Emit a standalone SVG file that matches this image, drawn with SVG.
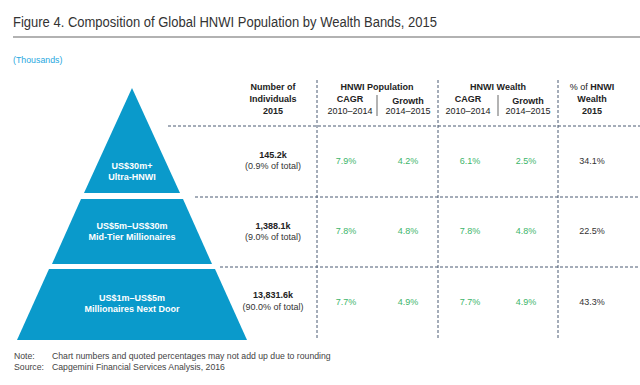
<svg xmlns="http://www.w3.org/2000/svg" width="640" height="385" viewBox="0 0 640 385">
<style>
text{font-family:"Liberation Sans",Arial,sans-serif;}
.tier{fill:#0a9acb;}
.tl{fill:#fff;font-size:9px;font-weight:bold;text-anchor:middle;}
.hd{fill:#222;font-size:9px;font-weight:bold;text-anchor:middle;}
.hr{fill:#222;font-size:9px;text-anchor:middle;}
.num{fill:#222;font-size:9px;font-weight:bold;text-anchor:middle;}
.sub{fill:#333;font-size:9px;text-anchor:middle;}
.g{fill:#3db56a;font-size:9px;text-anchor:middle;}
.k{fill:#333;font-size:9px;text-anchor:middle;}
.dash{stroke:#4a5a72;stroke-width:1;stroke-dasharray:3 2;fill:none;}
.solid{stroke:#9a9a9a;stroke-width:1.5;}
.ft{fill:#444;font-size:8.7px;}
</style>
<rect width="640" height="385" fill="#fff"/>
<g id="title">
<text x="13" y="27" font-size="14" fill="#333" textLength="424" lengthAdjust="spacingAndGlyphs">Figure 4. Composition of Global HNWI Population by Wealth Bands, 2015</text>
<line x1="13" y1="37" x2="640" y2="37" stroke="#999" stroke-width="1.5"/>
<text x="13" y="63" font-size="8.8" fill="#29a8e0">(Thousands)</text>
</g>
<g id="connectors">
<line class="dash" x1="168" y1="126" x2="640" y2="126"/>
<line class="dash" x1="195" y1="197" x2="640" y2="197"/>
<line class="dash" x1="220" y1="267" x2="640" y2="267"/>
<line class="dash" x1="317" y1="80" x2="317" y2="338"/>
<line class="dash" x1="438" y1="80" x2="438" y2="338"/>
<line class="dash" x1="558" y1="80" x2="558" y2="338"/>
<line class="solid" x1="377" y1="95" x2="377" y2="116"/>
<line class="solid" x1="498" y1="95" x2="498" y2="116"/>
</g>
<g id="tier-ultra">
<polygon class="tier" points="132,88 180,193 84,193"/>
<text class="tl" x="132" y="169">US$30m+</text>
<text class="tl" x="132" y="180">Ultra-HNWI</text>
</g>
<g id="tier-mid">
<polygon class="tier" points="81,199 183,199 212,264 52,264"/>
<text class="tl" x="132" y="229">US$5m–US$30m</text>
<text class="tl" x="132" y="240">Mid-Tier Millionaires</text>
</g>
<g id="tier-next">
<polygon class="tier" points="49,269 215,269 247,340 17,340"/>
<text class="tl" x="132" y="301">US$1m–US$5m</text>
<text class="tl" x="132" y="312">Millionaires Next Door</text>
</g>
<g id="header">
<text class="hd" x="273" y="90">Number of</text>
<text class="hd" x="273" y="102">Individuals</text>
<text class="hd" x="273" y="114">2015</text>
<text class="hd" x="377" y="90">HNWI Population</text>
<text class="hd" x="350" y="102">CAGR</text>
<text class="hr" x="350" y="114">2010–2014</text>
<text class="hd" x="408" y="104">Growth</text>
<text class="hr" x="408" y="114">2014–2015</text>
<text class="hd" x="498" y="90">HNWI Wealth</text>
<text class="hd" x="468" y="102">CAGR</text>
<text class="hr" x="468" y="114">2010–2014</text>
<text class="hd" x="528" y="104">Growth</text>
<text class="hr" x="528" y="114">2014–2015</text>
<text class="hd" x="592" y="90"><tspan font-weight="normal">% of </tspan>HNWI</text>
<text class="hd" x="592" y="102">Wealth</text>
<text class="hd" x="592" y="114">2015</text>
</g>
<g id="row-ultra">
<text class="num" x="273" y="158">145.2k</text>
<text class="sub" x="273" y="169">(0.9% of total)</text>
<text class="g" x="346" y="164">7.9%</text>
<text class="g" x="408" y="164">4.2%</text>
<text class="g" x="470" y="164">6.1%</text>
<text class="g" x="526" y="164">2.5%</text>
<text class="k" x="592" y="164">34.1%</text>
</g>
<g id="row-mid">
<text class="num" x="273" y="229">1,388.1k</text>
<text class="sub" x="273" y="240">(9.0% of total)</text>
<text class="g" x="346" y="234">7.8%</text>
<text class="g" x="408" y="234">4.8%</text>
<text class="g" x="470" y="234">7.8%</text>
<text class="g" x="526" y="234">4.8%</text>
<text class="k" x="592" y="234">22.5%</text>
</g>
<g id="row-next">
<text class="num" x="273" y="298">13,831.6k</text>
<text class="sub" x="273" y="310">(90.0% of total)</text>
<text class="g" x="346" y="305">7.7%</text>
<text class="g" x="408" y="305">4.9%</text>
<text class="g" x="470" y="305">7.7%</text>
<text class="g" x="526" y="305">4.9%</text>
<text class="k" x="592" y="305">43.3%</text>
</g>
<g id="footer">
<text class="ft" x="14" y="359">Note:</text>
<text class="ft" x="52" y="359">Chart numbers and quoted percentages may not add up due to rounding</text>
<text class="ft" x="14" y="370">Source:</text>
<text class="ft" x="52" y="370">Capgemini Financial Services Analysis, 2016</text>
</g>
</svg>
